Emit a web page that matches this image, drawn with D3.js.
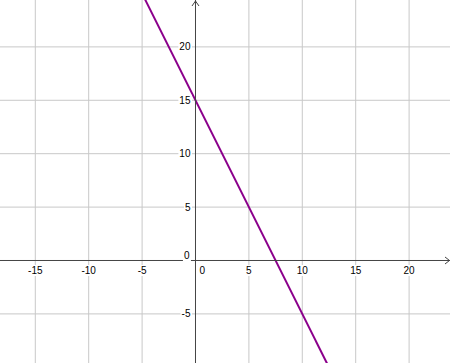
<!DOCTYPE html>
<html>
<head>
<meta charset="utf-8">
<script src="https://d3js.org/d3.v7.min.js"></script>
<style>
  body { margin: 0; background: #fff; }
  text { font-family: "Liberation Sans", Arial, sans-serif; font-size: 10px; fill: #000; }
</style>
</head>
<body>
<div id="graph"></div>
<script>
var lineSlope = -2;
var lineIntercept = 15;
var xTicks = [-15, -10, -5, 0, 5, 10, 15, 20];
var yTicks = [-5, 0, 5, 10, 15, 20];
var xView = [-18.305, 23.83];
var yView = [-9.597, 24.39];

var width = 450, height = 363;

var x = d3.scaleLinear().domain(xView).range([0, width]);
var y = d3.scaleLinear().domain(yView).range([height, 0]);

var svg = d3.select("#graph").append("svg")
    .attr("width", width)
    .attr("height", height);

// grid
svg.append("g").selectAll("line")
    .data(xTicks.filter(function(d) { return d !== 0; }))
  .enter().append("line")
    .attr("x1", function(d) { return x(d); })
    .attr("x2", function(d) { return x(d); })
    .attr("y1", 0).attr("y2", height)
    .attr("stroke", "#c8c8c8").attr("stroke-width", 1);

svg.append("g").selectAll("line")
    .data(yTicks.filter(function(d) { return d !== 0; }))
  .enter().append("line")
    .attr("y1", function(d) { return y(d); })
    .attr("y2", function(d) { return y(d); })
    .attr("x1", 0).attr("x2", width)
    .attr("stroke", "#c8c8c8").attr("stroke-width", 1);

// the line itself
var xs = [xView[0], xView[1]];
svg.append("path")
    .attr("d", d3.line()
        .x(function(d) { return x(d); })
        .y(function(d) { return y(lineIntercept + lineSlope * d); })(xs))
    .attr("fill", "none")
    .attr("stroke", "#8b008b")
    .attr("stroke-width", 2);

// axes
var axisColor = "#444";
svg.append("line")
    .attr("x1", 0).attr("x2", width)
    .attr("y1", y(0)).attr("y2", y(0))
    .attr("stroke", axisColor);
svg.append("line")
    .attr("x1", x(0)).attr("x2", x(0))
    .attr("y1", 0).attr("y2", height)
    .attr("stroke", axisColor);

// arrow heads
svg.append("path")
    .attr("d", "M" + (x(0) - 3.5) + "," + 6 + "L" + x(0) + "," + 1 + "L" + (x(0) + 3.5) + "," + 6)
    .attr("fill", "none").attr("stroke", axisColor);
svg.append("path")
    .attr("d", "M" + (width - 5) + "," + (y(0) - 3.5) + "L" + (width - 0.5) + "," + y(0) + "L" + (width - 5) + "," + (y(0) + 3.5))
    .attr("fill", "none").attr("stroke", axisColor);

// labels with white backing
function label(g, txt, px, py, anchor) {
    var t = g.append("text")
        .attr("x", px).attr("y", py)
        .attr("text-anchor", anchor)
        .text(txt);
    var b = t.node().getBBox();
    g.insert("rect", "text")
        .attr("x", b.x - 1).attr("y", b.y)
        .attr("width", b.width + 2).attr("height", b.height)
        .attr("fill", "#fff");
}

xTicks.forEach(function(d) {
    var g = svg.append("g");
    if (d === 0) label(g, "0", x(0) + 4, y(0) + 13.5, "start");
    else label(g, d, x(d), y(0) + 13.5, "middle");
});

yTicks.forEach(function(d) {
    var g = svg.append("g");
    if (d === 0) label(g, "0", x(0) - 6, y(0) - 1.5, "end");
    else label(g, d, x(0) - 5, y(d) + 3.5, "end");
});
</script>
</body>
</html>
